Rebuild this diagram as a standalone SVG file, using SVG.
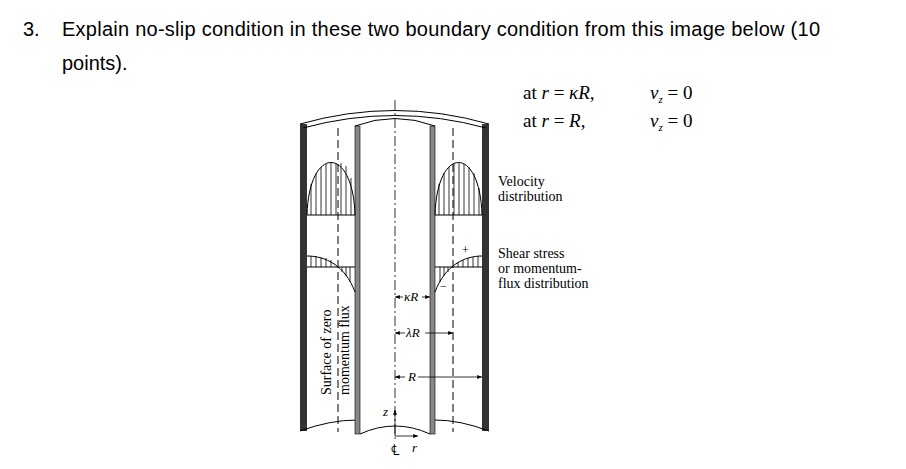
<svg xmlns="http://www.w3.org/2000/svg" width="906" height="469" viewBox="0 0 906 469">
<style>
.q{font-family:"Liberation Sans",Arial,sans-serif;font-size:20px;fill:#000}
.s{font-family:"Liberation Serif","Times New Roman",serif;fill:#000}
.l{stroke:#000;fill:none;stroke-width:1}
.d{stroke:#000;stroke-width:1;stroke-dasharray:8,4}
.c{stroke:#000;stroke-width:0.8;stroke-dasharray:10,3,2,3}
.h{stroke:#000;stroke-width:0.8}
</style>
<defs>
<marker id="a" markerWidth="6" markerHeight="6" refX="6" refY="3" orient="auto"><path d="M0,0.5L6,3L0,5.5z"/></marker>
</defs>
<rect width="906" height="469" fill="#fff"/>
<text class="q" x="23" y="36">3.</text>
<text class="q" x="62" y="36" textLength="758">Explain no-slip condition in these two boundary condition from this image below (10</text>
<text class="q" x="62" y="70">points).</text>
<g id="eq" class="s" font-size="19">
<text x="523" y="99">at <tspan font-style="italic">r</tspan> = <tspan font-style="italic">κR</tspan>,</text>
<text x="650" y="99" font-style="italic">v<tspan font-size="11" dy="4">z</tspan><tspan dy="-4" font-style="normal"> = 0</tspan></text>
<text x="523" y="127">at <tspan font-style="italic">r</tspan> = <tspan font-style="italic">R</tspan>,</text>
<text x="650" y="127" font-style="italic">v<tspan font-size="11" dy="4">z</tspan><tspan dy="-4" font-style="normal"> = 0</tspan></text>
</g>
<g id="outer">
<rect x="300" y="124" width="7" height="307" fill="#333"/>
<rect x="482" y="124" width="7" height="307" fill="#333"/>
<path class="l" d="M300,124 Q395,97 489,124 M303,128 Q395,103 486,128"/>
<path class="l" d="M300,431 Q330,420 357,420 M435,420 Q460,420 489,431"/>
</g>
<g id="inner">
<rect x="355" y="126" width="5" height="308" fill="#888" stroke="#000" stroke-width="0.6"/>
<rect x="430" y="126" width="5" height="308" fill="#888" stroke="#000" stroke-width="0.6"/>
<path class="l" d="M355,126 Q395,111 435,126 M360,434 Q395,418 430,434"/>
</g>
<g id="lines">
<line class="c" x1="395" y1="100" x2="395" y2="440"/>
<line class="d" x1="338" y1="128" x2="338" y2="432"/>
<line class="d" x1="453" y1="128" x2="453" y2="432"/>
</g>
<g id="velocity">
<path class="l" d="M307,215 L355,215 M307,215 C309,145 353,145 355,215"/>
<path class="h" d="M311,215V184 M316,215V173 M321,215V167 M326,215V164 M331,215V163 M336,215V163 M341,215V163 M346,215V166 M351,215V178"/>
<path class="l" d="M435,215 L482,215 M435,215 C437,145 480,145 482,215"/>
<path class="h" d="M439,215V184 M444,215V173 M449,215V167 M454,215V163 M459,215V163 M464,215V164 M469,215V167 M474,215V173 M479,215V188"/>
</g>
<g id="shear">
<path class="l" d="M307,256 C325,256 345,265 355,292 M307,267 L355,267"/>
<path class="h" d="M311,256V267 M316,256V267 M321,257V267 M326,258V267 M331,260V267 M342,267V272 M346,267V276 M350,267V282"/>
<path class="l" d="M435,292 C445,265 465,256 482,256 M435,267 L482,267"/>
<path class="h" d="M440,267V282 M444,267V276 M448,267V272 M458,267V262 M463,267V260 M468,267V258 M473,267V257 M478,267V256"/>
<text class="s" x="462" y="254" font-size="12">+</text>
<text class="s" x="440" y="290" font-size="12">−</text>
</g>
<g id="dims" class="s" font-size="13">
<line class="h" x1="403" y1="297" x2="395" y2="297" marker-end="url(#a)"/>
<line class="h" x1="422" y1="297" x2="430" y2="297" marker-end="url(#a)"/>
<text x="404" y="301" font-style="italic">κR</text>
<line class="h" x1="405" y1="333" x2="395" y2="333" marker-end="url(#a)"/>
<line class="h" x1="425" y1="333" x2="453" y2="333" marker-end="url(#a)"/>
<text x="406" y="337" font-style="italic">λR</text>
<line class="h" x1="405" y1="377" x2="395" y2="377" marker-end="url(#a)"/>
<line class="h" x1="418" y1="377" x2="482" y2="377" marker-end="url(#a)"/>
<text x="408" y="381" font-style="italic">R</text>
<line class="h" x1="395" y1="436" x2="395" y2="410" marker-end="url(#a)"/>
<line class="h" x1="395" y1="436" x2="418" y2="436" marker-end="url(#a)"/>
<text x="383" y="416" font-style="italic">z</text>
<text x="412" y="452" font-style="italic">r</text>
<text x="391" y="455" font-size="15">℄</text>
</g>
<g id="labels" class="s" font-size="14">
<text transform="translate(331,395) rotate(-90)">Surface of zero</text>
<text transform="translate(349,395) rotate(-90)">momentum flux</text>
<text x="498" y="186">Velocity</text>
<text x="498" y="201">distribution</text>
<text x="498" y="258">Shear stress</text>
<text x="498" y="273">or momentum-</text>
<text x="498" y="288">flux distribution</text>
</g>
</svg>
